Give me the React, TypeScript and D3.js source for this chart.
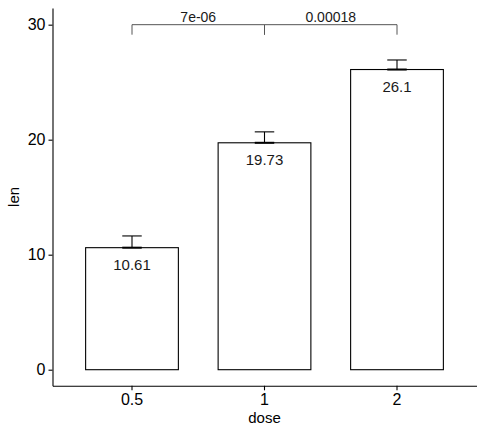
import React, { useEffect, useRef } from 'react';
import * as d3 from 'd3';

// ToothGrowth: mean len by dose, with standard error
const doses = ['0.5', '1', '2'];
const means = [10.61, 19.73, 26.1];
const ses = [1.02, 0.95, 0.83];
const yTicks = [0, 10, 20, 30];

// pairwise comparisons (p-values)
const compFrom = ['0.5', '1'];
const compTo = ['1', '2'];
const compLabels = ['7e-06', '0.00018'];
const compY = [30, 30];

const WIDTH = 485;
const HEIGHT = 433;
const FONT = 'Liberation Sans, Arial, sans-serif';

const App: React.FC = () => {
  const svgRef = useRef<SVGSVGElement>(null);

  useEffect(() => {
    if (!svgRef.current) return;
    const svg = d3.select(svgRef.current);
    svg.selectAll('*').remove();

    const x = d3.scaleBand<string>()
      .domain(doses)
      .range([52.5, 476.5])
      .paddingInner(0.3)
      .paddingOuter(0.25);

    const y = d3.scaleLinear()
      .domain([-1.4, 31.45])
      .range([385.8, 8]);

    const data = doses.map((d, i) => ({ dose: d, mean: means[i], se: ses[i] }));

    // bars
    svg.append('g')
      .selectAll('rect')
      .data(data)
      .enter()
      .append('rect')
      .attr('x', d => x(d.dose) || 0)
      .attr('y', d => y(d.mean))
      .attr('width', x.bandwidth())
      .attr('height', d => y(0) - y(d.mean))
      .attr('fill', 'white')
      .attr('stroke', '#000')
      .attr('stroke-width', 1.1);

    // upper error bars
    const capW = x.bandwidth() * 0.21;
    const eb = svg.append('g')
      .selectAll('g')
      .data(data)
      .enter()
      .append('g')
      .attr('stroke', '#000')
      .attr('stroke-width', 1.1);
    eb.append('line')
      .attr('x1', d => (x(d.dose) || 0) + x.bandwidth() / 2)
      .attr('x2', d => (x(d.dose) || 0) + x.bandwidth() / 2)
      .attr('y1', d => y(d.mean))
      .attr('y2', d => y(d.mean + d.se));
    eb.append('line')
      .attr('x1', d => (x(d.dose) || 0) + x.bandwidth() / 2 - capW / 2)
      .attr('x2', d => (x(d.dose) || 0) + x.bandwidth() / 2 + capW / 2)
      .attr('y1', d => y(d.mean + d.se))
      .attr('y2', d => y(d.mean + d.se));
    eb.append('line')
      .attr('x1', d => (x(d.dose) || 0) + x.bandwidth() / 2 - capW / 2)
      .attr('x2', d => (x(d.dose) || 0) + x.bandwidth() / 2 + capW / 2)
      .attr('y1', d => y(d.mean))
      .attr('y2', d => y(d.mean))
      .attr('stroke-width', 2);

    // mean labels inside bars
    svg.append('g')
      .selectAll('text')
      .data(data)
      .enter()
      .append('text')
      .attr('x', d => (x(d.dose) || 0) + x.bandwidth() / 2)
      .attr('y', d => y(d.mean) + 22)
      .attr('text-anchor', 'middle')
      .attr('font-family', FONT)
      .attr('font-size', 15)
      .attr('fill', '#1a1a1a')
      .text(d => String(d.mean));

    // comparison brackets
    const tip = 10;
    compLabels.forEach((lab, i) => {
      const x1 = (x(compFrom[i]) || 0) + x.bandwidth() / 2;
      const x2 = (x(compTo[i]) || 0) + x.bandwidth() / 2;
      const yy = y(compY[i]);
      svg.append('path')
        .attr('d', `M${x1},${yy + tip}V${yy}H${x2}V${yy + tip}`)
        .attr('fill', 'none')
        .attr('stroke', '#555')
        .attr('stroke-width', 1);
      svg.append('text')
        .attr('x', (x1 + x2) / 2)
        .attr('y', yy - 3)
        .attr('text-anchor', 'middle')
        .attr('font-family', FONT)
        .attr('font-size', 14)
        .attr('fill', '#1a1a1a')
        .text(lab);
    });

    // y axis
    const gy = svg.append('g')
      .attr('transform', 'translate(52.5,0)')
      .call(d3.axisLeft(y).tickValues(yTicks).tickSize(4).tickSizeOuter(0).tickPadding(3));
    gy.select('.domain').attr('stroke', '#000').attr('stroke-width', 1.1);
    gy.selectAll('.tick line').attr('stroke', '#000').attr('stroke-width', 1.1);
    gy.selectAll('.tick text')
      .attr('font-family', FONT)
      .attr('font-size', 16)
      .attr('fill', '#000');

    // x axis
    const gx = svg.append('g')
      .attr('transform', 'translate(0,385.8)')
      .call(d3.axisBottom(x).tickSize(4.5).tickSizeOuter(0).tickPadding(3));
    gx.select('.domain').attr('stroke', '#000').attr('stroke-width', 1.1);
    gx.selectAll('.tick line').attr('stroke', '#000').attr('stroke-width', 1.1);
    gx.selectAll('.tick text')
      .attr('font-family', FONT)
      .attr('font-size', 16)
      .attr('fill', '#000');

    // axis titles
    svg.append('text')
      .attr('x', (52.5 + 476.5) / 2)
      .attr('y', 423)
      .attr('text-anchor', 'middle')
      .attr('font-family', FONT)
      .attr('font-size', 15)
      .attr('fill', '#000')
      .text('dose');
    svg.append('text')
      .attr('transform', `translate(19,${(8 + 385.8) / 2}) rotate(-90)`)
      .attr('text-anchor', 'middle')
      .attr('font-family', FONT)
      .attr('font-size', 15)
      .attr('fill', '#000')
      .text('len');
  }, []);

  return (
    <svg
      ref={svgRef}
      width={WIDTH}
      height={HEIGHT}
      style={{ position: 'absolute', left: 0, top: 0, background: '#fff' }}
    />
  );
};

export default App;
